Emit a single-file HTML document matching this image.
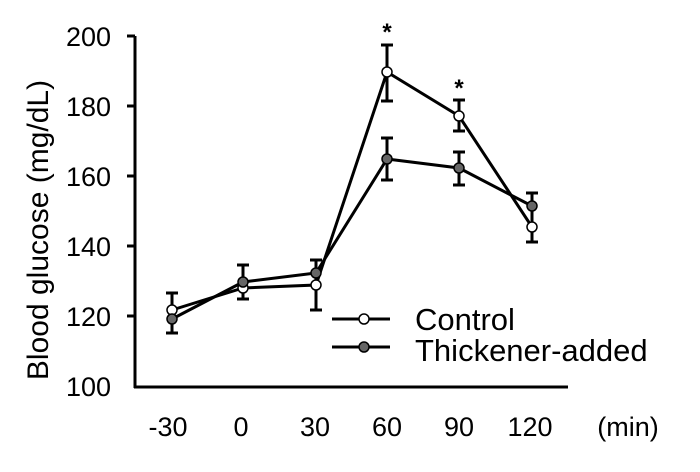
<!DOCTYPE html>
<html><head><style>body{margin:0;background:#fff}</style></head><body>
<svg width="700" height="467" xmlns="http://www.w3.org/2000/svg" font-family="Liberation Sans, sans-serif">
<rect width="700" height="467" fill="#fff"/>
<g stroke="#000" stroke-width="3" fill="none">
<line x1="135" y1="36" x2="135" y2="388"/>
<line x1="134" y1="387" x2="568" y2="387"/>
<line x1="127" y1="36" x2="135" y2="36"/>
<line x1="127" y1="106" x2="135" y2="106"/>
<line x1="127" y1="176" x2="135" y2="176"/>
<line x1="127" y1="246" x2="135" y2="246"/>
<line x1="127" y1="316" x2="135" y2="316"/>
</g>
<g font-size="27" text-anchor="end" fill="#000">
<text x="111" y="46">200</text><text x="111" y="116">180</text><text x="111" y="186">160</text>
<text x="111" y="256">140</text><text x="111" y="326">120</text><text x="111" y="396">100</text>
</g>
<g font-size="27" text-anchor="middle">
<text x="168" y="436">-30</text><text x="241" y="436">0</text><text x="315" y="436">30</text>
<text x="387" y="436">60</text><text x="459" y="436">90</text><text x="530" y="436">120</text>
<text x="628" y="436">(min)</text>
</g>
<text transform="translate(48,230) rotate(-90)" font-size="30" text-anchor="middle">Blood glucose (mg/dL)</text>
<g stroke="#000" stroke-width="3" fill="none">
<path d="M172 293V333M166 293H178M166 333H178"/>
<path d="M243 265V299M237 265H249M237 299H249"/>
<path d="M316 260V310M310 260H322M310 310H322"/>
<path d="M387 45V101M381 45H393M381 101H393"/>
<path d="M387 138V180M381 138H393M381 180H393"/>
<path d="M459 100V131M453 100H465M453 131H465"/>
<path d="M459 152V185M453 152H465M453 185H465"/>
<path d="M532 193V242M526 193H538M526 242H538"/>
<polyline points="172,310 243,288 316,285 387,72 459,116 532,227"/>
<polyline points="172,319 243,282 316,273 387,159 459,168 532,206"/>
<line x1="332" y1="319" x2="390" y2="319"/>
<line x1="332" y1="347" x2="390" y2="347"/>
</g>
<g stroke="#000" stroke-width="1.5">
<g fill="#fff"><circle cx="172" cy="310" r="5"/><circle cx="243" cy="288" r="5"/><circle cx="316" cy="285" r="5"/><circle cx="387" cy="72" r="5"/><circle cx="459" cy="116" r="5"/><circle cx="532" cy="227" r="5"/><circle cx="364" cy="319" r="5"/></g>
<g fill="#666"><circle cx="172" cy="319" r="5"/><circle cx="243" cy="282" r="5"/><circle cx="316" cy="273" r="5"/><circle cx="387" cy="159" r="5"/><circle cx="459" cy="168" r="5"/><circle cx="532" cy="206" r="5"/><circle cx="364" cy="347" r="5"/></g>
</g>
<g font-size="31"><text x="415" y="330">Control</text><text x="415" y="361">Thickener-added</text></g>
<g font-size="24" font-weight="bold" text-anchor="middle"><text x="387" y="40">*</text><text x="459" y="96">*</text></g>
</svg>
</body></html>
